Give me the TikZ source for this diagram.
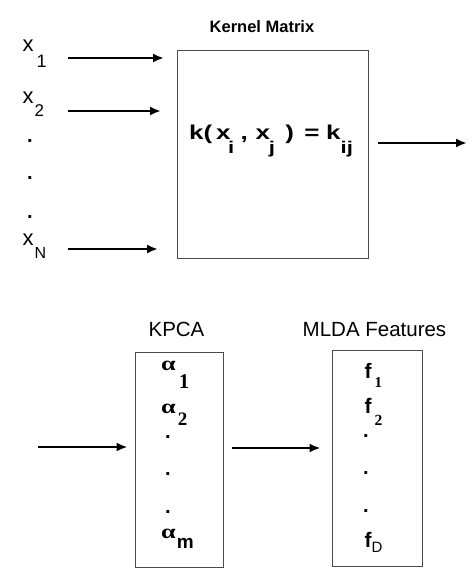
\documentclass[tikz,border=0pt]{standalone}
\usepackage{fontspec}
\setmainfont{Liberation Sans}
\newfontfamily\serifglyph{Liberation Serif}
\usetikzlibrary{arrows,arrows.meta}

% lowered index, written the way the picture sets it
\newcommand{\lowsub}[2][15pt]{\raisebox{-#1}{#2}}
\newcommand{\fs}[1]{\fontsize{#1}{#1}\selectfont}
\newcommand{\flatalpha}{\scalebox{1.05}[0.8]{α}}

\begin{document}
\begin{tikzpicture}[x=1pt, y=-1pt,
    box/.style={draw=black!70, line width=0.9pt},
    flow/.style={-{Latex[length=11pt,width=9pt]}, line width=2.6pt},
    label/.style={font=\fs{20.5}, anchor=base},
    entry/.style={font=\fs{22}, anchor=base west, inner sep=0pt},
    dot/.style={font=\bfseries\fs{20}, anchor=base, inner sep=0pt}]
        \useasboundingbox (0,0) rectangle (474,576);

        % draw the boxes
        \node[box, minimum width=191pt, minimum height=208pt] (kernel) at (272.5,154) {};
        \node[box, minimum width=88pt, minimum height=215pt] (kpca) at (179,459.5) {};
        \node[box, minimum width=90pt, minimum height=216pt] (mlda) at (377,458) {};

        % the texts
        \node[font=\bfseries\fs{16.5}, anchor=base] (ktitle) at (262,32) {Kernel Matrix};
        \node[label] (ptitle) at (176.5,336) {KPCA};
        \node[label] (ftitle) at (374.5,336) {MLDA Features};

        \node[font=\bfseries\fs{20}, anchor=base west, inner sep=0pt] (kij) at (189,139)
            {\scalebox{1.3}[1]{k(\kern3pt x\kern-2pt\lowsub[14pt]{\fs{17}i}\kern5pt,\kern6pt x\kern-1pt\lowsub[14pt]{\fs{17}j}\kern8pt)\kern8pt=\kern5pt k\lowsub[14pt]{\fs{17}ij}}};

        \node[entry] (x1) at (22.5,51) {x\kern3pt\lowsub[16pt]{\fs{18}1}};
        \node[entry] (x2) at (22.5,103) {x\kern1pt\lowsub[13pt]{\fs{17}2}};
        \node[dot] (d1) at (30,142) {.};
        \node[dot] (d2) at (30,179) {.};
        \node[dot] (d3) at (30,218) {.};
        \node[entry] (xN) at (22.5,245) {x\kern1pt\lowsub[13pt]{\fs{16}N}};

        \node[entry, font=\serifglyph\bfseries\fs{25}] (a1) at (161,370) {\flatalpha\kern3pt\lowsub[18pt]{\fs{21}1}};
        \node[entry, font=\serifglyph\bfseries\fs{25}] (a2) at (161,413) {\flatalpha\kern2pt\lowsub[12pt]{\fs{19}2}};
        \node[dot] (p1) at (168,438) {.};
        \node[dot] (p2) at (168,475) {.};
        \node[dot] (p3) at (168,513) {.};
        \node[entry] (am) at (161,538) {{\serifglyph\bfseries\fs{25}\flatalpha}\kern1pt\lowsub[10pt]{\bfseries\fs{19}m}};

        \node[entry, font=\bfseries\fs{21}] (f1) at (364.5,378) {f\kern3pt\lowsub[9pt]{\serifglyph\fs{15}1}};
        \node[entry, font=\bfseries\fs{21}] (f2) at (364.5,413) {f\kern3pt\lowsub[12pt]{\serifglyph\fs{15.5}2}};
        \node[dot] (q1) at (366,437) {.};
        \node[dot] (q2) at (366,474) {.};
        \node[dot] (q3) at (366,512) {.};
        \node[entry, font=\bfseries\fs{21}] (fD) at (364.5,547) {f\kern0pt\lowsub[5pt]{\mdseries\fs{15}D}};

        % arrow ends
        \coordinate (s1) at (68,58);   \coordinate (e1) at (164,58);
        \coordinate (s2) at (68,111);  \coordinate (e2) at (161,111);
        \coordinate (sN) at (68,249);  \coordinate (eN) at (158,249);
        \coordinate (out) at (467,143);
        \coordinate (in) at (38,447);

        % draw the arrows
        \draw[flow] (s1) -- (e1);
        \draw[flow] (s2) -- (e2);
        \draw[flow] (sN) -- (eN);
        \draw[flow, line width=2.2pt] ([xshift=10pt]kernel.east |- out) -- (out);
        \draw[flow] (in) -- ([xshift=-7pt]kpca.west |- in);
        \draw[flow] ([xshift=9pt]kpca.east |- 0,448) -- ([xshift=-11pt]mlda.west |- 0,448);

\end{tikzpicture}
\end{document}
